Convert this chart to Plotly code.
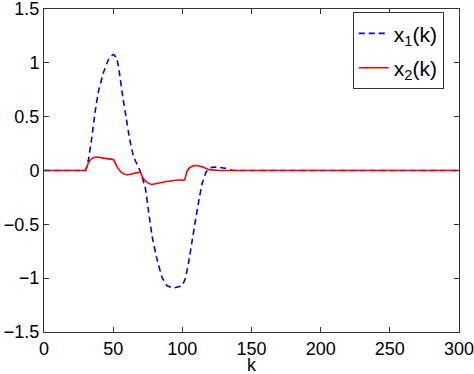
import plotly.graph_objects as go

# x1(k): blue dashed
k1 = [0, 20, 28, 30, 32.1, 34.5, 37, 39.3, 43, 46.6, 50.2, 52.6, 54.6, 57, 59.4, 61.8, 64.7, 69.3,
      73.2, 75.6, 78, 81.6, 85.3, 88.9, 93.7, 99.8, 102.2, 104.6, 107, 109.4, 111.8, 114.3,
      117.4, 121.5, 126, 131, 137, 145, 300]
x1 = [0, 0, 0, 0, 0.10, 0.30, 0.55, 0.73, 0.91, 1.03, 1.08, 1.04, 0.90, 0.68, 0.49, 0.30, 0.13, 0.0,
      -0.16, -0.38, -0.60, -0.82, -0.99, -1.07, -1.09, -1.07, -1.00, -0.85, -0.66, -0.47, -0.29, -0.12,
      -0.01, 0.03, 0.03, 0.02, 0.0, 0, 0]

# x2(k): red solid
k2 = [0, 20, 28, 30, 32.1, 34.5, 38.2, 43, 50.2, 52.6, 56.2, 59.9, 67.1, 69.5, 72, 75.6, 78, 81.6,
      90, 98.6, 101.5, 103.4, 105.8, 109.4, 114.3, 119, 123.9, 130, 140, 300]
x2 = [0, 0, 0, 0, 0.07, 0.11, 0.125, 0.115, 0.10, 0.04, -0.02, -0.04, -0.02, -0.016, -0.08, -0.12, -0.13, -0.12,
      -0.10, -0.088, -0.09, -0.007, 0.03, 0.047, 0.034, 0.01, 0.003, 0, 0, 0]

xticks = [0, 50, 100, 150, 200, 250, 300]
yticks = [-1.5, -1, -0.5, 0, 0.5, 1, 1.5]
x_title = "k"

FONT = "Liberation Sans, Arial"

fig = go.Figure()
fig.add_trace(go.Scatter(x=k1, y=x1, mode="lines", name="x<sub>1</sub>(k)", legendgroup="a",
                         line=dict(color="#0000ff", width=1.6, dash="6px,4px", shape="spline", smoothing=0.3)))
fig.add_trace(go.Scatter(x=k2, y=x2, mode="lines", name="x<sub>2</sub>(k)", legendgroup="b",
                         line=dict(color="#ff0000", width=1.6, shape="spline", smoothing=0.4)))

axis_common = dict(showline=True, linecolor="#333333", linewidth=1, mirror="ticks",
                   ticks="inside", ticklen=5, tickcolor="#333333", showgrid=False, zeroline=False,
                   automargin=False, ticklabeloverflow="allow",
                   tickfont=dict(family=FONT, size=18, color="black"))
fig.update_xaxes(range=[0, 300], tickvals=xticks, ticktext=[str(v) for v in xticks], **axis_common)
fig.update_yaxes(range=[-1.5, 1.5], tickvals=yticks,
                 ticktext=["\u22121.5", "\u22121", "\u22120.5", "0", "0.5", "1", "1.5"],
                 **axis_common)
fig.add_annotation(text=x_title, xref="paper", yref="paper", x=0.5, y=0, xanchor="center",
                   yanchor="top", yshift=-21, showarrow=False,
                   font=dict(family=FONT, size=18, color="black"))
fig.update_layout(width=474, height=374, margin=dict(l=44, r=15, t=9, b=42),
                  plot_bgcolor="white", paper_bgcolor="white",
                  font=dict(family=FONT, size=18, color="black"),
                  legend=dict(x=0.744, y=0.99, xanchor="left", yanchor="top",
                              bordercolor="#333333", borderwidth=1, bgcolor="white",
                              font=dict(family=FONT, size=21), tracegroupgap=4))
fig.write_html("out.html", config={"displayModeBar": False},
               post_script="document.body.style.margin='0';document.body.style.overflow='hidden';")
